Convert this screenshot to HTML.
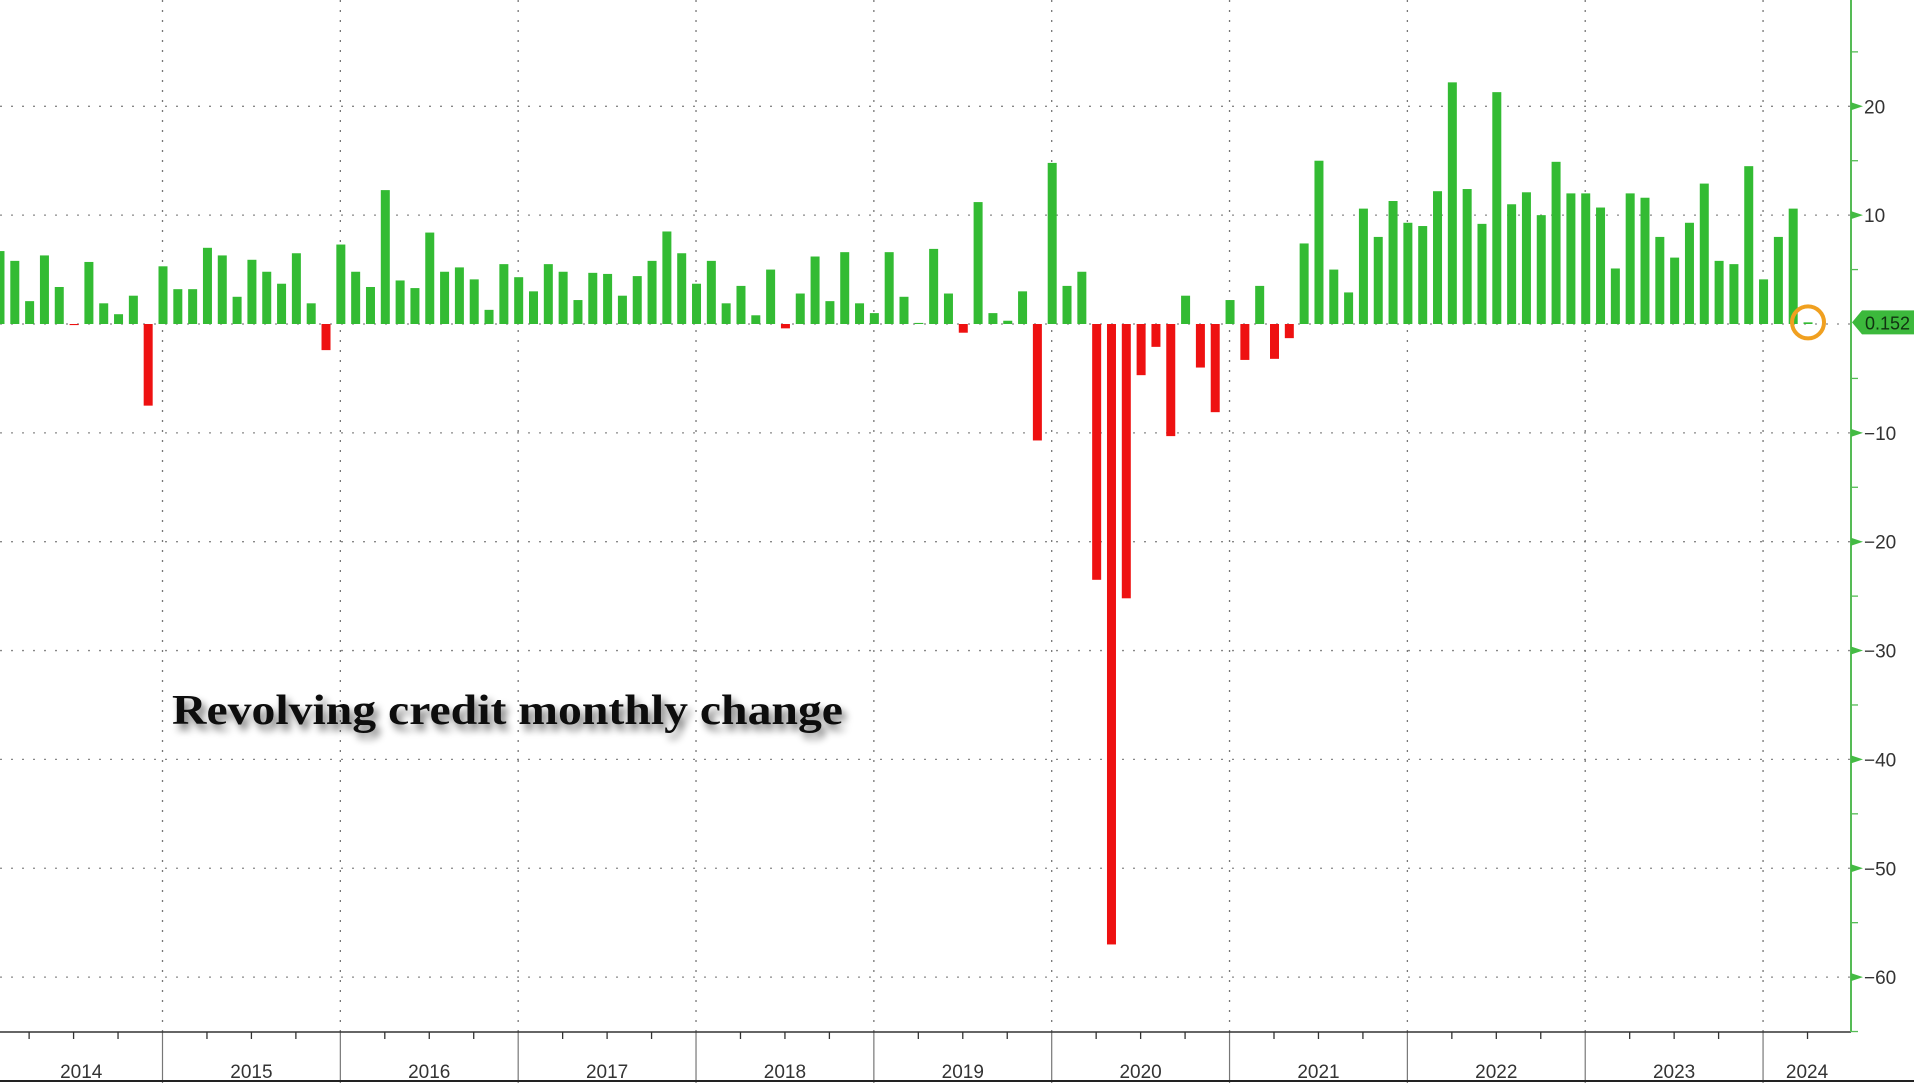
<!DOCTYPE html>
<html><head><meta charset="utf-8"><style>
html,body{margin:0;padding:0;background:#fff;}
svg{display:block;}
</style></head><body>
<svg id="chart" width="1914" height="1083" viewBox="0 0 1914 1083" xmlns="http://www.w3.org/2000/svg">
<defs>
<filter id="sh" x="-10%" y="-50%" width="120%" height="200%"><feGaussianBlur in="SourceAlpha" stdDeviation="4"/><feOffset dx="4" dy="6"/><feComponentTransfer><feFuncA type="linear" slope="0.55"/></feComponentTransfer><feMerge><feMergeNode/><feMergeNode in="SourceGraphic"/></feMerge></filter>
</defs>
<g id="grid"></g>
<g id="bars"></g>
<g id="axes"></g>
<text x="172" y="724" font-family="'Liberation Serif', serif" font-size="42" font-weight="bold" fill="#111" textLength="671" lengthAdjust="spacingAndGlyphs" filter="url(#sh)">Revolving credit monthly change</text>
</svg>
<script>
const values = [5.0,6.7,5.8,2.1,6.3,3.4,-0.1,5.7,1.9,0.9,2.6,-7.5,
5.3,3.2,3.2,7.0,6.3,2.5,5.9,4.8,3.7,6.5,1.9,-2.4,
7.3,4.8,3.4,12.3,4.0,3.3,8.4,4.8,5.2,4.1,1.3,5.5,
4.3,3.0,5.5,4.8,2.2,4.7,4.6,2.6,4.4,5.8,8.5,6.5,
3.7,5.8,1.9,3.5,0.8,5.0,-0.4,2.8,6.2,2.1,6.6,1.9,
1.0,6.6,2.5,0.1,6.9,2.8,-0.8,11.2,1.0,0.3,3.0,-10.7,
14.8,3.5,4.8,-23.5,-57.0,-25.2,-4.7,-2.1,-10.3,2.6,-4.0,-8.1,
2.2,-3.3,3.5,-3.2,-1.3,7.4,15.0,5.0,2.9,10.6,8.0,11.3,
9.3,9.0,12.2,22.2,12.4,9.2,21.3,11.0,12.1,10.0,14.9,12.0,
12.0,10.7,5.1,12.0,11.6,8.0,6.1,9.3,12.9,5.8,5.5,14.5,
4.1,8.0,10.6,0.152];
const years = ["2014","2015","2016","2017","2018","2019","2020","2021","2022","2023","2024"];
const yTicks = [20,10,-10,-20,-30,-40,-50,-60];
const lastLabel = "0.152";

const NS="http://www.w3.org/2000/svg";
const X0=163, MW=14.82, Y0=324, PU=10.885, AXX=1851, AXY=1032;
const xC=i=>X0+(i-12)*MW;
const yV=v=>Y0-v*PU;
function mk(tag,attrs,parent){const e=document.createElementNS(NS,tag);for(const k in attrs)e.setAttribute(k,attrs[k]);parent.appendChild(e);return e;}
const grid=document.getElementById('grid'), bars=document.getElementById('bars'), axes=document.getElementById('axes');

[...yTicks,0].forEach(t=>{
  const l=mk('line',{x1:0,x2:AXX,y1:yV(t),y2:yV(t),stroke:'#888','stroke-width':1.3,'stroke-dasharray':'2 9'},grid);
  
  
});
years.forEach((y,k)=>{
  const xs=xC(12*k)-0.5;
  if(k>0){
    const g=mk('line',{x1:xs,x2:xs,y1:0,y2:AXY,stroke:'#777','stroke-width':1.3,'stroke-dasharray':'2 8'},grid);
    
    
    const s=mk('line',{x1:xs,x2:xs,y1:AXY,y2:1083,stroke:'#777','stroke-width':1.2},axes);
    
    
  }
  for(let q=1;q<4;q++){
    const qx=xs+q*3*MW;
    if(qx<AXX && qx>0){const t=mk('line',{x1:qx,x2:qx,y1:AXY,y2:AXY+7,stroke:'#333','stroke-width':1.3},axes);
    
    }
  }
  const xe=Math.min(xC(12*(k+1))-0.5,AXX);
  const xl0=Math.max(xs,0);
  const tx=mk('text',{x:(xl0+xe)/2,y:1078,'text-anchor':'middle','font-family':"'Liberation Sans',sans-serif",'font-size':19,fill:'#333'},axes);
  tx.textContent=y;
  
  
});
values.forEach((v,i)=>{
  const x=xC(i)-4.5, y=Math.min(yV(v),Y0), h=Math.max(Math.abs(yV(v)-Y0),0.6);
  const r=mk('rect',{x:x,y:y,width:9,height:h,fill:v>=0?'#33bb33':'#ee1111'},bars);
  
  
});
const xl=mk('line',{x1:0,x2:AXX,y1:AXY,y2:AXY,stroke:'#333','stroke-width':1.5},axes);


const bl=mk('line',{x1:0,x2:1914,y1:1081,y2:1081,stroke:'#222','stroke-width':2},axes);


const yl=mk('line',{x1:AXX,x2:AXX,y1:0,y2:AXY,stroke:'#55bb55','stroke-width':2},axes);


for(let v=25;v>=-65;v-=5){
  if(v%10!==0){const t=mk('line',{x1:AXX,x2:AXX+7,y1:yV(v),y2:yV(v),stroke:'#55bb55','stroke-width':1.3},axes);
  
  }
}
yTicks.forEach(t=>{
  const y=yV(t);
  const p=mk('polygon',{points:`${AXX},${y-4} ${AXX+12},${y} ${AXX},${y+4}`,fill:'#44bb44'},axes);
  
  
  const tx=mk('text',{x:AXX+13,y:y+7,'font-family':"'Liberation Sans',sans-serif",'font-size':19,fill:'#333'},axes);
  tx.textContent=(t<0?'\u2212':'')+Math.abs(t);
  
  
});
const lv=values[values.length-1], ly=yV(lv);
const lb=mk('polygon',{points:`${AXX+1},${ly} ${AXX+11},${ly-12} 1914,${ly-12} 1914,${ly+12} ${AXX+11},${ly+12}`,fill:'#3cb93c'},axes);


const lt=mk('text',{x:AXX+14,y:ly+7,'font-family':"'Liberation Sans',sans-serif",'font-size':18,fill:'#113311'},axes);
lt.textContent=lastLabel;


const c=mk('circle',{cx:xC(values.length-1),cy:ly,r:16,fill:'none',stroke:'#f0a020','stroke-width':4},axes);


</script>
</body></html>
